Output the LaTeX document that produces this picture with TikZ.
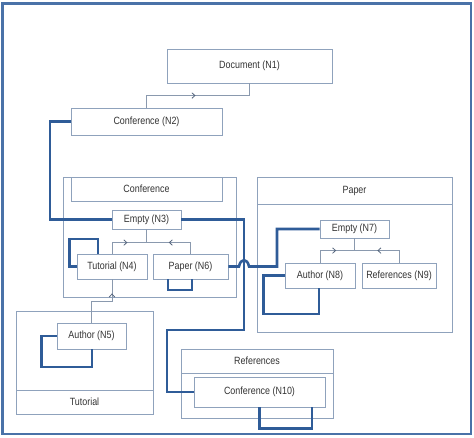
\documentclass[tikz,border=0pt]{standalone}
\usepackage{fontspec}
\setmainfont{Liberation Sans}[FakeStretch=0.85]
\usetikzlibrary{arrows.meta,decorations.markings}
\definecolor{boxc}{HTML}{8FA2BC}
\definecolor{thinc}{HTML}{8A99AE}
\definecolor{arrc}{HTML}{55657C}
\definecolor{thickc}{HTML}{2F5C98}
\definecolor{framec}{HTML}{4A72A8}
\definecolor{txtc}{HTML}{333333}
\begin{document}
\begin{tikzpicture}[x=1pt,y=-1pt,
  box/.style={draw=boxc, line width=0.9pt, fill=white, rectangle, inner sep=0pt,
    font=\fontsize{10.5}{12}\selectfont, text=txtc},
  cont/.style={draw=boxc, line width=0.9pt, rectangle, inner sep=0pt,
    font=\fontsize{10.5}{12}\selectfont, text=txtc},
  thinline/.style={draw=thinc, line width=0.8pt},
  thickline/.style={draw=thickc, line width=2.6pt},
  midarr/.style={postaction={decorate}, decoration={markings,
    mark=at position #1 with {\arrow[arrc, line width=0.8pt]{Straight Barb[length=3pt,width=5.5pt]}}}}
]
\useasboundingbox (0,0) rectangle (474,437);
% outer frame
\draw[framec, line width=2.8pt] (2.5,3.5) rectangle (471,434);

% containers
\node[cont, minimum width=173pt, minimum height=120pt] (cconf) at (149.5,237) {};
\node[box, minimum width=151pt, minimum height=24pt] (hconf) at (146.5,189) {Conference};
\node[cont, minimum width=195pt, minimum height=155pt] (cpaper) at (354.5,254.5) {};
\node[cont, minimum width=195pt, minimum height=27pt] (hpaper) at (354.5,190.5) {Paper};
\node[cont, minimum width=137pt, minimum height=103pt] (ctut) at (84.5,362.5) {};
\node[cont, minimum width=137pt, minimum height=24pt] (htut) at (84.5,402) {Tutorial};
\node[cont, minimum width=152pt, minimum height=69pt] (cref) at (257,383.5) {};
\node[cont, minimum width=152pt, minimum height=24pt] (href) at (257,361) {References};

% nodes
\node[box, minimum width=165pt, minimum height=34pt] (n1) at (249.5,66) {Document (N1)};
\node[box, minimum width=151pt, minimum height=27pt] (n2) at (146.5,121.5) {Conference (N2)};
\node[box, minimum width=69pt, minimum height=19pt] (n3) at (146.5,219.5) {Empty (N3)};
\node[box, minimum width=70pt, minimum height=25pt] (n4) at (112,266.5) {Tutorial (N4)};
\node[box, minimum width=75pt, minimum height=25pt] (n6) at (190.5,266.5) {Paper (N6)};
\node[box, minimum width=69pt, minimum height=26pt] (n5) at (91.5,336) {Author (N5)};
\node[box, minimum width=69pt, minimum height=18pt] (n7) at (354.5,229) {Empty (N7)};
\node[box, minimum width=70pt, minimum height=25pt] (n8) at (320,275.5) {Author (N8)};
\node[box, minimum width=74pt, minimum height=25pt] (n9) at (399,275.5) {References (N9)};
\node[box, minimum width=131pt, minimum height=30pt] (n10) at (259.5,392) {Conference (N10)};

% thin connectors
\draw[thinline, midarr=0.48] (n2.north) -- ++(0,-12) -| (n1.south);
\draw[thinline, midarr=0.45] (n4.north) -- ++(0,-11) -| (n3.south);
\draw[thinline, midarr=0.48] (n6.north) -- ++(0,-11) -| (n3.south);
\draw[thinline, midarr=0.48] (n8.north) -- ++(0,-12) -| (n7.south);
\draw[thinline, midarr=0.49] (n9.north) -- ++(0,-12) -| (n7.south);
\draw[thinline, midarr=0.78] (n5.north) -- ++(0,-21) -| (n4.south);

% thick connectors
\draw[thickline] (n2.west) -- (50,0 |- n2.west) |- (n3.west);
\draw[thickline] (n3.east) -- (244,0 |- n3.east) |- (167,330) |- (n10.west);
\draw[thickline] (n6.east) -- (239,266.5) .. controls (240.5,258) and (247.5,258) .. (249,266.5)
  -- (277,266.5) |- (n7.west);
% self loops
\draw[thickline] (n4.west) -- ++(-7,0) |- (98,239) -- (98,0 |- n4.north);
\draw[thickline] (168,0 |- n6.south) -- (168,290) -- (192,290) -- (192,0 |- n6.south);
\draw[thickline] (n8.west) -- ++(-21,0) |- (319,314) -- (319,0 |- n8.south);
\draw[thickline] (n5.west) -- ++(-15,0) |- (92,367) -- (92,0 |- n5.south);
\draw[thickline] (n10.south) -- ++(0,21) -| (312,0 |- n10.south);
\end{tikzpicture}
\end{document}
